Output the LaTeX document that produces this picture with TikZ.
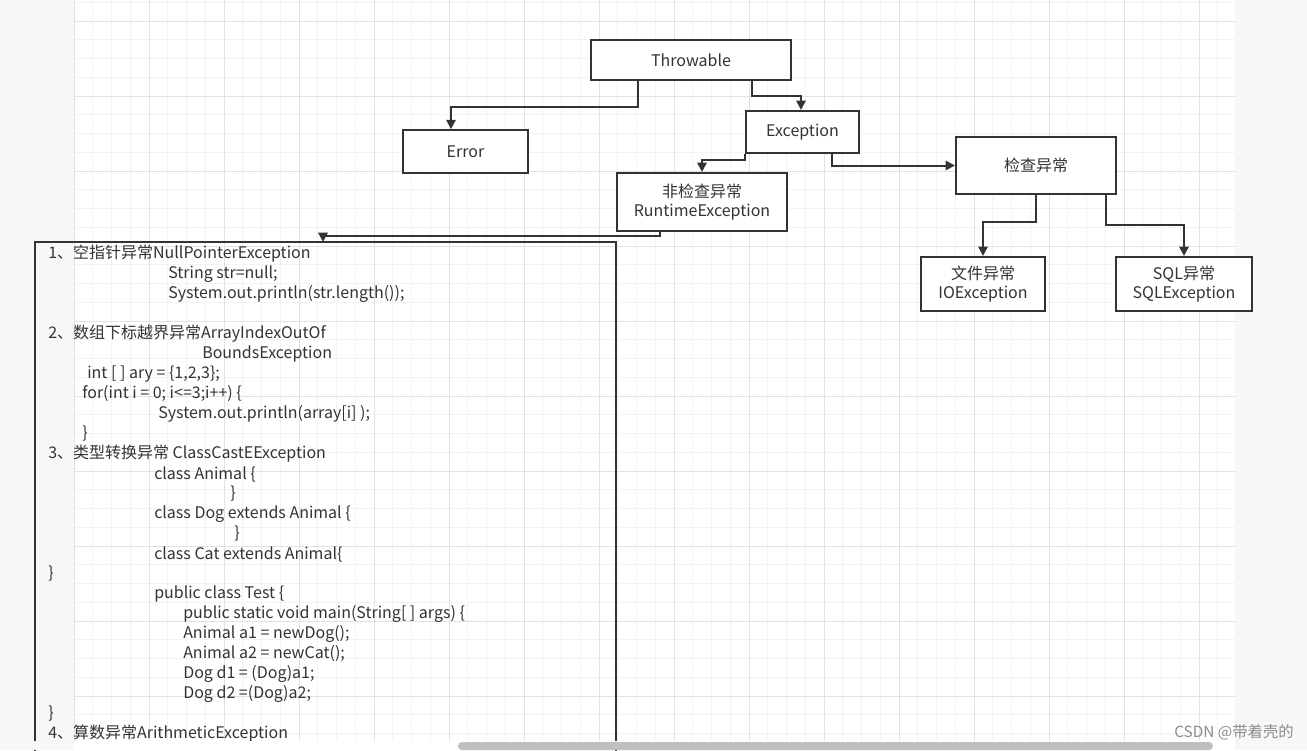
\documentclass[tikz,border=0pt]{standalone}
\usepackage{fontspec}
\setmainfont{Noto Sans CJK SC}
\usetikzlibrary{arrows.meta}
\definecolor{ln}{HTML}{333333}
\definecolor{grm}{HTML}{F3F3F3}
\definecolor{grM}{HTML}{E2E2E2}
\begin{document}
\begin{tikzpicture}[x=0.75pt,y=-0.75pt,
  box/.style={draw=ln,line width=1.6pt,fill=white,inner sep=0pt,font=\fontsize{12}{14}\selectfont,align=center,text=ln},
  conn/.style={draw=ln,line width=1.5pt,-{Triangle[length=7pt,width=7pt]}},
  code/.style={anchor=west,inner sep=0pt,font=\fontsize{12}{14}\selectfont,text=ln}]
\useasboundingbox (0,0) rectangle (1307,750);
\fill[grm!70] (0,0) rectangle (1307,750);
\fill[white] (74,0) rectangle (1235,750);
\begin{scope}
\clip (74,0) rectangle (1235,750);
\foreach \i in {0,...,62} \draw[grm,line width=0.75pt] (74+\i*18.75,0) -- (74+\i*18.75,750);
\foreach \i in {0,...,41} \draw[grm,line width=0.75pt] (74,2.25+\i*18.75) -- (1235,2.25+\i*18.75);
\foreach \i in {0,...,16} \draw[grM,line width=0.75pt] (74+\i*75,0) -- (74+\i*75,750);
\foreach \i in {0,...,10} \draw[grM,line width=0.75pt] (74,21+\i*75) -- (1235,21+\i*75);
\end{scope}
\node[box,minimum width=150pt,minimum height=30pt] (thr) at (691,60) {Throwable};
\node[box,minimum width=93.75pt,minimum height=32pt] (err) at (465.5,151.5) {Error};
\node[box,minimum width=84.75pt,minimum height=31.5pt] (exc) at (802.5,132) {Exception};
\node[box,minimum width=120pt,minimum height=42.75pt] (chk) at (1036,165.5) {检查异常};
\node[box,minimum width=127.5pt,minimum height=43.5pt] (rt) at (702,202) {非检查异常\\RuntimeException};
\node[box,minimum width=93pt,minimum height=40.5pt] (io) at (983,284) {文件异常\\IOException};
\node[box,minimum width=102pt,minimum height=40.5pt] (sql) at (1184,284) {SQL异常\\SQLException};
\draw[ln,line width=1.6pt] (35,752) -- (35,242) -- (616,242) -- (616,752);
\coordinate (bt) at (323,242);
\draw[conn] (thr.south -| 638,0) |- (451,107) -- (err.north -| 451,0);
\draw[conn] (thr.south -| 752,0) |- (801,96) -- (exc.north -| 801,0);
\draw[conn] (exc.south -| 745,0) |- (702,160) -- (rt.north);
\draw[conn] (exc.south -| 832,0) |- (chk.west);
\draw[conn] (rt.south -| 660,0) |- (323,236) -- (bt);
\draw[conn] (chk.south) |- (983,222) -- (io.north);
\draw[conn] (chk.south -| 1106,0) |- (1184,225) -- (sql.north);
\node[code] (l1) at (48,254) {1、空指针异常NullPointerException};
\node[code] (l2) at (168,274) {String str=null;};
\node[code] (l3) at (168,294) {System.out.println(str.length());};
\node[code] (l4) at (48,334) {2、数组下标越界异常ArrayIndexOutOf};
\node[code] (l5) at (202,354) {BoundsException};
\node[code] (l6) at (87,374) {int [ ] ary = \{1,2,3\};};
\node[code] (l7) at (82,394) {for(int i = 0; i<=3;i++) \{};
\node[code] (l8) at (158,414) {System.out.println(array[i] );};
\node[code] (l9) at (82,434) {\}};
\node[code] (l10) at (48,454) {3、类型转换异常 ClassCastEException};
\node[code] (l11) at (154,474) {class Animal \{};
\node[code] (l12) at (230,494) {\}};
\node[code] (l13) at (154,514) {class Dog extends Animal \{};
\node[code] (l14) at (234,534) {\}};
\node[code] (l15) at (154,554) {class Cat extends Animal\{};
\node[code] (l16) at (48,574) {\}};
\node[code] (l17) at (154,594) {public class Test \{};
\node[code] (l18) at (183,614) {public static void main(String[ ] args) \{};
\node[code] (l19) at (183,634) {Animal a1 = newDog();};
\node[code] (l20) at (183,654) {Animal a2 = newCat();};
\node[code] (l21) at (183,674) {Dog d1 = (Dog)a1;};
\node[code] (l22) at (183,694) {Dog d2 =(Dog)a2;};
\node[code] (l23) at (48,714) {\}};
\node[code] (l24) at (48,734) {4、算数异常ArithmeticException};
\fill[white] (0,741) rectangle (1307,750);
\fill[grm!70] (0,741) rectangle (74,750);
\fill[grm!70] (1235,741) rectangle (1307,750);
\fill[black!25,rounded corners=3pt] (458,742) rectangle (1213,750);
\node[anchor=east,inner sep=0pt,text=black!45,font=\fontsize{11.5}{13}\selectfont] (wm) at (1294,732) {CSDN @带着壳的};
\end{tikzpicture}
\end{document}
